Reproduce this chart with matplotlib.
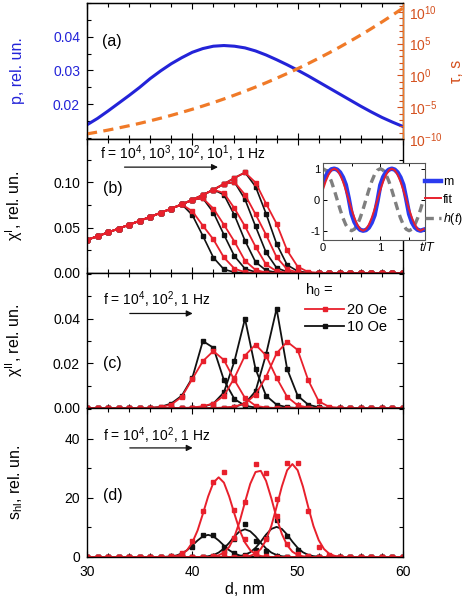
import numpy as np
import matplotlib
matplotlib.use('Agg')
import matplotlib.pyplot as plt
from matplotlib.ticker import MultipleLocator, FixedLocator, FormatStrFormatter, NullFormatter

plt.rcParams['font.family'] = ['Liberation Sans', 'DejaVu Sans']
plt.rcParams['mathtext.fontset'] = 'custom'
plt.rcParams['mathtext.rm'] = 'Liberation Sans'
plt.rcParams['mathtext.it'] = 'Liberation Sans:italic'
plt.rcParams['axes.unicode_minus'] = False

# particle diameter grid, nm
d_nm = np.arange(30, 61)
d_half = np.arange(30, 60.25, 0.5)

# (a) size distribution and relaxation time
p_dist = [0.0139, 0.0158, 0.0180, 0.0203, 0.0226, 0.0250, 0.0276, 0.0299, 0.0320, 0.0338,
          0.0354, 0.0365, 0.0372, 0.0374, 0.0372, 0.0367, 0.0358, 0.0346, 0.0332, 0.0317,
          0.0301, 0.0284, 0.0266, 0.0248, 0.0230, 0.0212, 0.0194, 0.0177, 0.0161, 0.0147, 0.0134]
log_tau = [-9.20, -8.91, -8.60, -8.26, -7.91, -7.54, -7.14, -6.72, -6.28, -5.81,
           -5.32, -4.81, -4.27, -3.70, -3.10, -2.48, -1.83, -1.15, -0.44, 0.30,
           1.07, 1.87, 2.71, 3.57, 4.47, 5.41, 6.37, 7.38, 8.42, 9.49, 10.61]

# (b) chi' : common rising part (d = 30..45) and the falling parts per frequency
chi1_env = [0.0365, 0.0406, 0.0448, 0.0490, 0.0533, 0.0576, 0.0620, 0.0665, 0.0711, 0.0758,
            0.0808, 0.0862, 0.0920, 0.0983, 0.1050, 0.1110]
chi1_start = [39, 41, 43, 44, 45]
chi1_b_drop = [
    [0.0758, 0.0640, 0.0410, 0.0170, 0.0040, 0.0008, 0.0001],
    [0.0825, 0.0668, 0.0423, 0.0186, 0.0047, 0.0010, 0.0002],
    [0.0864, 0.0639, 0.0357, 0.0122, 0.0028, 0.0006, 0.0001],
    [0.1004, 0.0814, 0.0515, 0.0227, 0.0057, 0.0012, 0.0002],
    [0.1110, 0.0955, 0.0655, 0.0322, 0.0089, 0.0020, 0.0003],
]
chi1_r_drop = [
    [0.0758, 0.0682, 0.0523, 0.0371, 0.0171, 0.0048, 0.0008, 0.0001],
    [0.0825, 0.0711, 0.0533, 0.0347, 0.0135, 0.0034, 0.0005, 0.0001],
    [0.0883, 0.0714, 0.0516, 0.0291, 0.0094, 0.0019, 0.0003],
    [0.1004, 0.0865, 0.0649, 0.0422, 0.0175, 0.0041, 0.0006, 0.0001],
    [0.1110, 0.0999, 0.0766, 0.0544, 0.0250, 0.0070, 0.0011, 0.0002],
]

# (c) chi'' for 10^4, 10^2, 1 Hz
chi2_b_start = [37, 41, 44]
chi2_b = [
    [0.0005, 0.002, 0.0055, 0.0135, 0.0300, 0.0270, 0.0125, 0.004, 0.001, 0.0002],
    [0.0005, 0.002, 0.007, 0.021, 0.0400, 0.0175, 0.0055, 0.0015, 0.0003],
    [0.0005, 0.002, 0.0075, 0.024, 0.0445, 0.0175, 0.0055, 0.0015, 0.0003],
]
chi2_r_start = [36, 40, 43]
chi2_r = [
    [0.0001, 0.0004, 0.0015, 0.005, 0.013, 0.021, 0.0255, 0.0215, 0.0125, 0.0045, 0.001, 0.0002],
    [0.0002, 0.0008, 0.002, 0.0055, 0.0135, 0.0235, 0.0284, 0.0235, 0.0135, 0.005, 0.0012, 0.0002],
    [0.0002, 0.0006, 0.002, 0.006, 0.014, 0.0245, 0.0297, 0.026, 0.0125, 0.003, 0.0005, 0.0001],
]

# (d) s_hl: points (1 nm step) and fitted curves (0.5 nm step)
shl_r_start = [37, 42, 45]
shl_r = [
    [0.1, 0.3, 1.5, 5.5, 15.5, 25.5, 28.8, 16.0, 6.0, 1.0, 0.2],
    [0.3, 1.5, 6.5, 18.5, 31.4, 28.5, 14.0, 4.5, 1.0, 0.2],
    [0.2, 1.2, 6.0, 19.5, 32.0, 32.0, 15.5, 3.5, 0.8, 0.1],
]
shl_b_start = [38, 42, 45]
shl_b = [
    [0.3, 1.0, 3.5, 7.5, 7.5, 3.5, 1.5, 0.3],
    [0.5, 2.0, 6.0, 11.3, 5.5, 2.0, 0.5],
    [0.6, 2.5, 6.5, 12.4, 7.0, 2.5, 0.5],
]
shl_fit_r_start = [38.0, 42.0, 45.0]
shl_fit_r = [
    [0.11, 0.33, 0.94, 2.3, 4.9, 9.0, 14.6, 20.5, 25.2, 27.0, 25.2, 20.5, 14.6, 9.0, 4.9, 2.3, 0.94, 0.33, 0.11],
    [0.19, 0.56, 1.5, 3.4, 6.9, 12.1, 18.6, 24.8, 28.8, 29.2, 25.8, 19.9, 13.3, 7.8, 4.0, 1.8, 0.69, 0.23, 0.07],
    [0.12, 0.39, 1.1, 2.7, 5.7, 10.5, 17.0, 23.9, 29.4, 31.5, 29.4, 23.9, 17.0, 10.5, 5.7, 2.7, 1.1, 0.39, 0.12],
]
shl_fit_b_start = [37.5, 41.0, 44.0]
shl_fit_b = [
    [0.07, 0.20, 0.52, 1.2, 2.3, 3.9, 5.6, 7.0, 7.5, 7.0, 5.6, 3.9, 2.3, 1.2, 0.52, 0.20, 0.07],
    [0.08, 0.25, 0.66, 1.5, 2.9, 4.8, 7.0, 8.7, 9.4, 8.7, 7.0, 4.8, 2.9, 1.5, 0.66, 0.25, 0.08],
    [0.09, 0.28, 0.71, 1.6, 3.1, 5.2, 7.6, 9.5, 10.2, 9.5, 7.6, 5.2, 3.1, 1.6, 0.71, 0.28, 0.09],
]

# inset: m(t), fit, h(t)
t_per = np.arange(0, 1.76, 0.05)
m_t = [0.55, 0.75, 0.90, 0.98, 1.0, 0.97, 0.88, 0.72, 0.48, 0.05, -0.45, -0.72, -0.88, -0.97, -1.0, -0.98,
       -0.90, -0.74, -0.50, -0.05, 0.47, 0.73, 0.89, 0.97, 1.0, 0.97, 0.88, 0.72, 0.48, 0.03, -0.46, -0.73,
       -0.89, -0.97, -1.0, -0.97]
fit_t = [0.309, 0.588, 0.809, 0.951, 1.0, 0.951, 0.809, 0.588, 0.309, 0.0, -0.309, -0.588, -0.809, -0.951,
         -1.0, -0.951, -0.809, -0.588, -0.309, 0.0, 0.309, 0.588, 0.809, 0.951, 1.0, 0.951, 0.809, 0.588,
         0.309, 0.0, -0.309, -0.588, -0.809, -0.951, -1.0, -0.951]
h_t = [1.0, 0.951, 0.809, 0.588, 0.309, 0.0, -0.309, -0.588, -0.809, -0.951, -1.0, -0.951, -0.809, -0.588,
       -0.309, 0.0, 0.309, 0.588, 0.809, 0.951, 1.0, 0.951, 0.809, 0.588, 0.309, 0.0, -0.309, -0.588,
       -0.809, -0.951, -1.0, -0.951, -0.809, -0.588, -0.309, 0.0]

BLUE = '#2323d8'
ORANGE = '#f07a28'
ORANGE_TXT = '#d4501e'
RED = '#e8202c'
BLACK = '#111111'


def place(grid, start, vals):
    out = np.zeros(len(grid))
    i0 = int(round((start - grid[0]) / (grid[1] - grid[0])))
    out[i0:i0 + len(vals)] = vals
    return out


def chi1_curve(start, drop):
    out = np.zeros(len(d_nm))
    n = start - 30
    out[:n] = chi1_env[:n]
    out[n:n + len(drop)] = drop
    return out


def style(ax):
    ax.set_xlim(30, 60)
    ax.xaxis.set_major_locator(MultipleLocator(10))
    ax.xaxis.set_minor_locator(MultipleLocator(2))
    ax.tick_params(which='both', direction='in', top=True, right=True, labelsize=10, pad=5)
    ax.tick_params(which='major', length=4.5, width=0.8)
    ax.tick_params(which='minor', length=2.8, width=0.8)
    for s in ax.spines.values():
        s.set_linewidth(1.0)


fig = plt.figure(figsize=(4.74, 6.03), dpi=100)
L, W = 0.1835, 0.6667
ax_a = fig.add_axes([L, 0.7695, W, 0.2255])
ax_b = fig.add_axes([L, 0.5473, W, 0.2222])
ax_c = fig.add_axes([L, 0.3234, W, 0.2239])
ax_d = fig.add_axes([L, 0.0763, W, 0.2471])

# ---- (a)
style(ax_a)
ax_a.tick_params(right=False, labelbottom=False)
ax_a.tick_params(axis='y', labelcolor=BLUE)
ax_a.plot(d_nm, p_dist, color=BLUE, lw=2.2, zorder=3)
ax_a.set_ylim(0.0097, 0.050)
ax_a.yaxis.set_major_locator(FixedLocator([0.02, 0.03, 0.04]))
ax_a.yaxis.set_minor_locator(MultipleLocator(0.005))
ax_a.yaxis.set_major_formatter(FormatStrFormatter('%.2f'))
ax_a.set_ylabel('p, rel. un.', color=BLUE, fontsize=11.5)
ax_a.text(32.35, 0.715, '(a)', transform=ax_a.get_xaxis_transform(), fontsize=11.5, ha='center', va='center')

ax_a2 = ax_a.twinx()
ax_a2.semilogy(d_nm, 10.0 ** np.array(log_tau), color=ORANGE, lw=2.3, dashes=(3.2, 2.0))
ax_a2.set_ylim(1e-10, 10 ** 11.4)
ax_a2.yaxis.set_major_locator(FixedLocator([1e-10, 1e-5, 1, 1e5, 1e10]))
ax_a2.set_yticklabels(['$10^{-10}$', '$10^{-5}$', '$10^{0}$', '$10^{5}$', '$10^{10}$'])
ax_a2.yaxis.set_minor_locator(FixedLocator([10.0 ** k for k in range(-10, 12)]))
ax_a2.yaxis.set_minor_formatter(NullFormatter())
ax_a2.tick_params(which='both', direction='in', colors=ORANGE_TXT, labelsize=10, pad=4)
ax_a2.tick_params(which='major', length=4.5, width=0.8)
ax_a2.tick_params(which='minor', length=2.8, width=0.8)
ax_a2.spines['right'].set_color(ORANGE)
ax_a2.spines['right'].set_linewidth(1.0)
ax_a2.set_ylabel('τ, s', color=ORANGE_TXT, fontsize=11.5, rotation=90)
ax_a2.yaxis.set_label_coords(1.145, 0.5)

# ---- (b)
style(ax_b)
ax_b.tick_params(labelbottom=False)
for st, dr in zip(chi1_start, chi1_b_drop):
    ax_b.plot(d_nm, chi1_curve(st, dr), color=BLACK, lw=1.2, marker='s', ms=2.2)
for st, dr in zip(chi1_start, chi1_r_drop):
    ax_b.plot(d_nm, chi1_curve(st, dr), color=RED, lw=1.3, marker='s', ms=2.2)
ax_b.set_ylim(0, 0.148)
ax_b.yaxis.set_major_locator(FixedLocator([0.0, 0.05, 0.10]))
ax_b.yaxis.set_minor_locator(MultipleLocator(0.025))
ax_b.yaxis.set_major_formatter(FormatStrFormatter('%.2f'))
ax_b.set_ylabel('χ$^{\\rm I}$, rel. un.', fontsize=11.5)
ax_b.text(32.45, 0.627, '(b)', transform=ax_b.get_xaxis_transform(), fontsize=11.5, ha='center', va='center')
ax_b.text(31.2, 0.888, 'f = 10$^4$, 10$^3$, 10$^2$, 10$^1$, 1 Hz', transform=ax_b.get_xaxis_transform(),
          fontsize=10, ha='left', va='center')
ax_b.annotate('', xy=(42.7, 0.79), xytext=(33.3, 0.79),
              xycoords=ax_b.get_xaxis_transform(), textcoords=ax_b.get_xaxis_transform(),
              arrowprops=dict(arrowstyle='-|>', color=BLACK, lw=0.9, mutation_scale=9))

# inset
ax_in = fig.add_axes([0.681, 0.602, 0.216, 0.127])
ax_in.plot(t_per, h_t, color='#7f7f7f', lw=2.4, dashes=(2.5, 1.6), label='$h(t)$')
ax_in.plot(t_per, m_t, color='#2b3bef', lw=3.2, label='m')
ax_in.plot(t_per, fit_t, color=RED, lw=1.4, label='fit')
ax_in.set_xlim(0, 1.78)
ax_in.set_ylim(-1.3, 1.17)
ax_in.xaxis.set_major_locator(FixedLocator([0, 1]))
ax_in.xaxis.set_minor_locator(FixedLocator([0.5, 1.5]))
ax_in.yaxis.set_major_locator(FixedLocator([-1, 0, 1]))
ax_in.tick_params(which='both', direction='in', top=True, right=True, labelsize=8, pad=2)
ax_in.tick_params(which='major', length=3, width=0.7)
ax_in.tick_params(which='minor', length=2, width=0.7)
for s in ax_in.spines.values():
    s.set_linewidth(0.8)
    s.set_color('#555555')
ax_in.text(1.02, -0.1, '$t/T$', transform=ax_in.transAxes, fontsize=9, ha='center', va='center')
h_lines = ax_in.get_lines()
leg_in = ax_in.legend([h_lines[1], h_lines[2], h_lines[0]], ['m', 'fit', '$h(t)$'], loc='center left',
                      bbox_to_anchor=(1.0, 0.5), frameon=False, fontsize=9, handlelength=1.3,
                      handletextpad=0.1, labelspacing=0.45, borderpad=0, borderaxespad=0)

# ---- (c)
style(ax_c)
ax_c.tick_params(labelbottom=False)
c_lines_b = []
for st, v in zip(chi2_b_start, chi2_b):
    c_lines_b += ax_c.plot(d_nm, place(d_nm, st, v), color=BLACK, lw=1.3, marker='s', ms=2.4)
c_lines_r = []
for st, v in zip(chi2_r_start, chi2_r):
    c_lines_r += ax_c.plot(d_nm, place(d_nm, st, v), color=RED, lw=1.3, marker='s', ms=2.4)
ax_c.set_ylim(0, 0.0605)
ax_c.yaxis.set_major_locator(FixedLocator([0.0, 0.02, 0.04]))
ax_c.yaxis.set_minor_locator(MultipleLocator(0.01))
ax_c.yaxis.set_major_formatter(FormatStrFormatter('%.2f'))
ax_c.set_ylabel('χ$^{\\rm II}$, rel. un.', fontsize=11.5)
ax_c.text(32.45, 0.333, '(c)', transform=ax_c.get_xaxis_transform(), fontsize=11.5, ha='center', va='center')
ax_c.text(31.55, 0.80, 'f = 10$^4$, 10$^2$, 1 Hz', transform=ax_c.get_xaxis_transform(),
          fontsize=10, ha='left', va='center')
ax_c.annotate('', xy=(40.3, 0.70), xytext=(33.8, 0.70),
              xycoords=ax_c.get_xaxis_transform(), textcoords=ax_c.get_xaxis_transform(),
              arrowprops=dict(arrowstyle='-|>', color=BLACK, lw=0.9, mutation_scale=9))
leg = ax_c.legend([c_lines_r[0], c_lines_b[0]], ['20 Oe', '10 Oe'], title='h$_0$ =', loc='upper left',
                  bbox_to_anchor=(0.69, 0.935), frameon=False, fontsize=10.5, title_fontsize=10.5,
                  handlelength=2.7, handletextpad=0.2, labelspacing=0.25, borderpad=0, borderaxespad=0)
leg._legend_box.align = 'left'

# ---- (d)
style(ax_d)
for st, v in zip(shl_fit_b_start, shl_fit_b):
    ax_d.plot(d_half, place(d_half, st, v), color=BLACK, lw=1.3)
for st, v in zip(shl_b_start, shl_b):
    ax_d.plot(d_nm, place(d_nm, st, v), color=BLACK, ls='none', marker='s', ms=3.0)
for st, v in zip(shl_fit_r_start, shl_fit_r):
    ax_d.plot(d_half, place(d_half, st, v), color=RED, lw=1.4)
for st, v in zip(shl_r_start, shl_r):
    ax_d.plot(d_nm, place(d_nm, st, v), color=RED, ls='none', marker='s', ms=3.0)
ax_d.set_ylim(0, 50.5)
ax_d.yaxis.set_major_locator(FixedLocator([0, 20, 40]))
ax_d.yaxis.set_minor_locator(MultipleLocator(10))
ax_d.tick_params(axis='x', pad=6)
ax_d.set_ylabel('s$_{\\rm hl}$, rel. un.', fontsize=11.5)
ax_d.set_xlabel('d, nm', fontsize=11.5, labelpad=2)
ax_d.text(32.45, 0.416, '(d)', transform=ax_d.get_xaxis_transform(), fontsize=11.5, ha='center', va='center')
ax_d.text(31.55, 0.814, 'f = 10$^4$, 10$^2$, 1 Hz', transform=ax_d.get_xaxis_transform(),
          fontsize=10, ha='left', va='center')
ax_d.annotate('', xy=(40.3, 0.732), xytext=(33.8, 0.732),
              xycoords=ax_d.get_xaxis_transform(), textcoords=ax_d.get_xaxis_transform(),
              arrowprops=dict(arrowstyle='-|>', color=BLACK, lw=0.9, mutation_scale=9))

for ax in (ax_a, ax_b, ax_c, ax_d):
    ax.yaxis.set_label_coords(-0.196, 0.5)

fig.savefig('out.png', dpi=100)
